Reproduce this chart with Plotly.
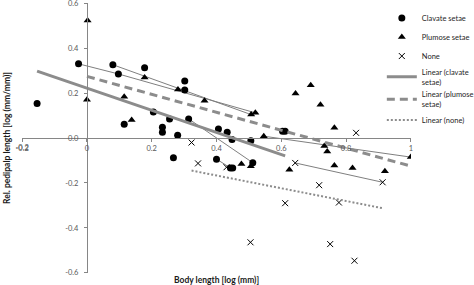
import numpy as np
import plotly.graph_objects as go

# ---- data ----
clav_x = [-0.154, -0.026, 0.080, 0.097, 0.178, 0.205, 0.115, 0.233, 0.233, 0.255,
          0.302, 0.302, 0.280, 0.314, 0.406, 0.433, 0.448, 0.506, 0.267, 0.400,
          0.443, 0.450, 0.512, 0.604, 0.612]
clav_y = [0.154, 0.330, 0.326, 0.285, 0.313, 0.116, 0.061, 0.048, 0.026, 0.085,
          0.254, 0.214, 0.012, 0.085, 0.040, 0.026, -0.007, -0.012, -0.088, -0.094,
          -0.133, -0.133, -0.110, 0.030, 0.030]

plum_x = [0.002, 0.000, 0.115, 0.138, 0.178, 0.281, 0.363, 0.507, 0.520, 0.546,
          0.644, 0.691, 0.721, 0.764, 0.733, 0.742, 1.000, 0.764, 0.820, 0.920,
          0.477, 0.506, 0.625]
plum_y = [0.523, 0.170, 0.183, 0.080, 0.269, 0.216, 0.166, 0.104, 0.112, 0.008,
          0.198, 0.235, 0.148, 0.046, -0.036, -0.060, -0.085, -0.122, -0.134, -0.148,
          -0.116, -0.126, -0.141]

none_x = [0.323, 0.343, 0.431, 0.505, 0.612, 0.643, 0.717, 0.751, 0.778, 0.826, 0.831, 0.913]
none_y = [-0.020, -0.113, -0.130, -0.464, -0.290, -0.111, -0.210, -0.472, -0.287, -0.546, 0.023, -0.197]

# thin connecting lines: sequences of (series, index)
links = [
    [("clav", 1), ("clav", 3), ("plum", 8)],
    [("clav", 2), ("plum", 7)],
    [("clav", 13), ("clav", 22)],
    [("clav", 19), ("clav", 20)],
    [("none", 5), ("none", 11)],
    [("plum", 9), ("plum", 16)],
]

x_tick_vals = [-0.2, 0, 0.2, 0.4, 0.6, 0.8, 1.0]
x_tick_text = ["-0.2", "0", "0.2", "0.4", "0.6", "0.8", "1"]
y_tick_vals = [-0.6, -0.4, -0.2, 0, 0.2, 0.4, 0.6]
y_tick_text = ["-0.6", "-0.4", "-0.2", "0.0", "0.2", "0.4", "0.6"]

series = {"clav": (clav_x, clav_y), "plum": (plum_x, plum_y), "none": (none_x, none_y)}

FONT = "Lato"
GRAY = "#8c8c8c"
AX = "#868686"

fig = go.Figure()

for chain in links:
    xs = [series[s][0][i] for s, i in chain]
    ys = [series[s][1][i] for s, i in chain]
    fig.add_trace(go.Scatter(x=xs, y=ys, mode="lines", showlegend=False,
                             line=dict(color="#7f7f7f", width=1), hoverinfo="skip"))

fig.add_trace(go.Scatter(x=clav_x, y=clav_y, mode="markers", name="Clavate setae",
                         legendrank=1,
                         marker=dict(symbol="circle", size=7, color="black")))
fig.add_trace(go.Scatter(x=plum_x, y=plum_y, mode="markers", name="Plumose setae",
                         legendrank=2,
                         marker=dict(symbol="triangle-up", size=7, color="black")))
fig.add_trace(go.Scatter(x=none_x, y=none_y, mode="markers", name="None",
                         legendrank=3,
                         marker=dict(symbol="x-thin-open", size=6, color="black",
                                     line=dict(color="black", width=1))))


def trend(xv, yv):
    k, b = np.polyfit(xv, yv, 1)
    xs = np.array([min(xv), max(xv)])
    return xs, k * xs + b


for (xv, yv), nm, dash, w, rk in [
    ((clav_x, clav_y), "Linear (clavate<br>setae)", "solid", 3, 4),
    ((plum_x, plum_y), "Linear (plumose<br>setae)", "8px,5px", 3, 5),
    ((none_x, none_y), "Linear (none)", "2px,2px", 2, 6),
]:
    tx, ty = trend(xv, yv)
    fig.add_trace(go.Scatter(x=tx, y=ty, mode="lines", name=nm, legendrank=rk,
                             line=dict(color=GRAY, width=w, dash=dash)))

axis_common = dict(showline=True, linecolor=AX, linewidth=1, ticks="outside",
                   ticklen=3, tickcolor=AX, showgrid=False, zeroline=False,
                   ticklabeloverflow="allow",
                   tickfont=dict(family=FONT, size=7.5, color="#595959"))

fig.update_layout(
    width=474, height=285,
    margin=dict(l=22, r=63, t=3, b=12, autoexpand=False),
    paper_bgcolor="white", plot_bgcolor="white",
    font=dict(family=FONT),
    xaxis=dict(range=[-0.2006, 1.0006], anchor="free", position=0.5,
               tickvals=x_tick_vals, ticktext=x_tick_text, **axis_common),
    yaxis=dict(range=[-0.6006, 0.6006], anchor="free", position=0.2006 / 1.2012,
               tickvals=y_tick_vals, ticktext=y_tick_text, ticklabelstandoff=4,
               **axis_common),
    legend=dict(x=0.925, y=0.998, xanchor="left", yanchor="top",
                font=dict(family=FONT, size=7.5, color="#262626"),
                bgcolor="rgba(0,0,0,0)", itemwidth=30),
    annotations=[
        dict(text="<b>Body length [log (mm)]</b>", xref="paper", yref="paper",
             x=0.5, y=0, yshift=-7, xanchor="center", yanchor="middle",
             showarrow=False, font=dict(family=FONT, size=8.5, color="#1a1a1a")),
        dict(text="<b>Rel. pedipalp length [log (mm/mm)]</b>", xref="paper", yref="paper",
             x=0, xshift=-15, y=0.5, xanchor="center", yanchor="middle", textangle=-90,
             showarrow=False, font=dict(family=FONT, size=8.5, color="#1a1a1a")),
    ],
)

# x-axis tick label at the far left can be hidden by plotly's free-axis overlap logic;
# also show labels on a matching overlay axis to be sure they are drawn
fig.update_layout(xaxis2=dict(overlaying="x", matches="x", anchor="free", position=0.5,
                              showline=False, ticks="", showgrid=False, zeroline=False,
                              tickvals=x_tick_vals[:1], ticktext=x_tick_text[:1],
                              ticklabeloverflow="allow", ticklabelstandoff=3,
                              tickfont=dict(family=FONT, size=7.5, color="#595959")))
fig.add_trace(go.Scatter(x=[None], y=[None], xaxis="x2", showlegend=False, hoverinfo="skip"))

fig.write_html("out.html")
